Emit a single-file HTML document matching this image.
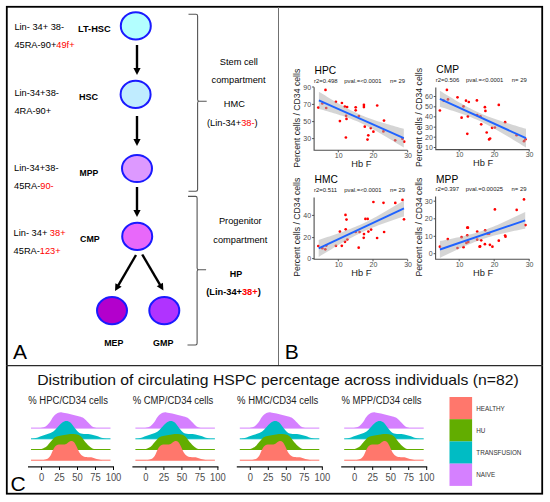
<!DOCTYPE html>
<html><head><meta charset="utf-8"><style>
html,body{margin:0;padding:0;background:#fff;width:550px;height:502px;overflow:hidden}
svg{display:block}
text{font-family:"Liberation Sans",sans-serif}
</style></head><body>
<svg width="550" height="502" viewBox="0 0 550 502">
<rect width="550" height="502" fill="#fff"/>
<rect x="6.8" y="6.8" width="535.4" height="486.9" fill="none" stroke="#000" stroke-width="1.8"/>
<line x1="278.5" y1="7" x2="278.5" y2="365" stroke="#707070" stroke-width="1"/>
<line x1="6" y1="365.6" x2="543" y2="365.6" stroke="#2a2a2a" stroke-width="1.25"/>
<ellipse cx="135.8" cy="25.9" rx="15" ry="13.6" fill="#b3ffff" stroke="#1a1aff" stroke-width="2"/>
<ellipse cx="135.6" cy="94.4" rx="15" ry="13.6" fill="#c0ecff" stroke="#1a1aff" stroke-width="2"/>
<ellipse cx="137" cy="168.5" rx="15" ry="13.6" fill="#dd99ff" stroke="#1a1aff" stroke-width="2"/>
<ellipse cx="137.2" cy="236.4" rx="15" ry="13.6" fill="#e868fa" stroke="#1a1aff" stroke-width="2"/>
<ellipse cx="112" cy="310.6" rx="15" ry="13.6" fill="#b300cc" stroke="#1a1aff" stroke-width="2"/>
<ellipse cx="164.3" cy="310.6" rx="15" ry="13.6" fill="#b033ff" stroke="#1a1aff" stroke-width="2"/>
<line x1="137" y1="45" x2="137.00" y2="69.00" stroke="#000" stroke-width="2.4"/>
<polygon points="137.00,75.00 133.40,68.00 140.60,68.00" fill="#000"/>
<line x1="137" y1="116" x2="137.00" y2="140.00" stroke="#000" stroke-width="2.4"/>
<polygon points="137.00,146.00 133.40,139.00 140.60,139.00" fill="#000"/>
<line x1="137" y1="187" x2="137.00" y2="211.00" stroke="#000" stroke-width="2.4"/>
<polygon points="137.00,217.00 133.40,210.00 140.60,210.00" fill="#000"/>
<line x1="136" y1="255" x2="118.02" y2="285.82" stroke="#000" stroke-width="2.4"/>
<polygon points="115.00,291.00 115.42,283.14 121.64,286.77" fill="#000"/>
<line x1="142.2" y1="254.5" x2="160.36" y2="285.33" stroke="#000" stroke-width="2.4"/>
<polygon points="163.40,290.50 156.75,286.29 162.95,282.64" fill="#000"/>
<text x="14.4" y="30" font-size="9.25" fill="#000" text-anchor="start" >Lin- 34+ 38-</text>
<text x="14.4" y="48" font-size="9.25" fill="#000" text-anchor="start" >45RA-90+<tspan fill="#ff0000">49f+</tspan></text>
<text x="78" y="32.4" font-size="9.25" fill="#000" font-weight="bold" text-anchor="start" >LT-HSC</text>
<text x="14.4" y="95.6" font-size="9.25" fill="#000" text-anchor="start" >Lin-34+38-</text>
<text x="14.4" y="114.4" font-size="9.25" fill="#000" text-anchor="start" >4RA-90+</text>
<text x="79" y="100.4" font-size="9.05" fill="#000" font-weight="bold" text-anchor="start" >HSC</text>
<text x="14" y="171" font-size="9.25" fill="#000" text-anchor="start" >Lin-34+38-</text>
<text x="14" y="189.4" font-size="9.25" fill="#000" text-anchor="start" >45RA-<tspan fill="#ff0000">90-</tspan></text>
<text x="79.6" y="176" font-size="8.65" fill="#000" font-weight="bold" text-anchor="start" >MPP</text>
<text x="13.6" y="236" font-size="9.25" fill="#000" text-anchor="start" >Lin- 34+ <tspan fill="#ff0000">38+</tspan></text>
<text x="13.6" y="254" font-size="9.25" fill="#000" text-anchor="start" >45RA-<tspan fill="#ff0000">123+</tspan></text>
<text x="80" y="241.6" font-size="8.85" fill="#000" font-weight="bold" text-anchor="start" >CMP</text>
<text x="104.2" y="346.1" font-size="8.85" fill="#000" font-weight="bold" text-anchor="start" >MEP</text>
<text x="153.1" y="346.1" font-size="8.95" fill="#000" font-weight="bold" text-anchor="start" >GMP</text>
<path d="M188.5,14.3 H196 Q197.6,14.3 197.6,16 V99.5 Q197.6,101.2 199,101.2 H206.7 M199,101.2 Q197.6,101.2 197.6,103 V189.5 Q197.6,191.2 196,191.2 H188.5" fill="none" stroke="#555" stroke-width="1.1"/>
<path d="M188,196.4 H195.5 Q197.1,196.4 197.1,198 V268 Q197.1,269.7 198.6,269.7 H206.1 M198.6,269.7 Q197.1,269.7 197.1,271.5 V343.3 Q197.1,345 195.5,345 H187.5" fill="none" stroke="#555" stroke-width="1.1"/>
<text x="238.8" y="64.7" font-size="9.25" fill="#000" text-anchor="middle" >Stem cell</text>
<text x="238.6" y="83.1" font-size="9.25" fill="#000" text-anchor="middle" >compartment</text>
<text x="234.4" y="107.4" font-size="9.25" fill="#000" text-anchor="middle" >HMC</text>
<text x="232.3" y="126.2" font-size="9.25" fill="#000" text-anchor="middle" >(Lin-34+<tspan fill="#ff0000">38-</tspan>)</text>
<text x="240.3" y="224.3" font-size="9.25" fill="#000" text-anchor="middle" >Progenitor</text>
<text x="240.3" y="243.4" font-size="9.25" fill="#000" text-anchor="middle" >compartment</text>
<text x="236" y="276.6" font-size="8.95" fill="#000" font-weight="bold" text-anchor="middle" >HP</text>
<text x="233.5" y="294.5" font-size="9.25" fill="#000" font-weight="bold" text-anchor="middle" >(Lin-34+<tspan fill="#ff0000">38+</tspan>)</text>
<text x="12.9" y="359.4" font-size="21" fill="#000" text-anchor="start" >A</text>
<text x="284.7" y="359.4" font-size="21" fill="#000" text-anchor="start" >B</text>
<text x="10.6" y="491.2" font-size="21" fill="#000" text-anchor="start" >C</text>
<circle cx="325.5" cy="89.9" r="1.35" fill="#ff0000"/>
<circle cx="318.3" cy="107.6" r="1.35" fill="#ff0000"/>
<circle cx="322.3" cy="103.5" r="1.35" fill="#ff0000"/>
<circle cx="326.2" cy="108" r="1.35" fill="#ff0000"/>
<circle cx="335.9" cy="101.8" r="1.35" fill="#ff0000"/>
<circle cx="341.9" cy="103" r="1.35" fill="#ff0000"/>
<circle cx="344.8" cy="106.6" r="1.35" fill="#ff0000"/>
<circle cx="347.1" cy="107" r="1.35" fill="#ff0000"/>
<circle cx="339.9" cy="121.1" r="1.35" fill="#ff0000"/>
<circle cx="346.1" cy="115.8" r="1.35" fill="#ff0000"/>
<circle cx="346.5" cy="118.9" r="1.35" fill="#ff0000"/>
<circle cx="345.9" cy="137.5" r="1.35" fill="#ff0000"/>
<circle cx="355.7" cy="107.3" r="1.35" fill="#ff0000"/>
<circle cx="355.7" cy="110.3" r="1.35" fill="#ff0000"/>
<circle cx="358.9" cy="116" r="1.35" fill="#ff0000"/>
<circle cx="363.9" cy="104.9" r="1.35" fill="#ff0000"/>
<circle cx="363.9" cy="107.1" r="1.35" fill="#ff0000"/>
<circle cx="364.8" cy="126.7" r="1.35" fill="#ff0000"/>
<circle cx="377.2" cy="105.5" r="1.35" fill="#ff0000"/>
<circle cx="384" cy="120.6" r="1.35" fill="#ff0000"/>
<circle cx="370.8" cy="128.1" r="1.35" fill="#ff0000"/>
<circle cx="373.4" cy="131.7" r="1.35" fill="#ff0000"/>
<circle cx="383.4" cy="131.4" r="1.35" fill="#ff0000"/>
<circle cx="368.3" cy="135.3" r="1.35" fill="#ff0000"/>
<circle cx="367.5" cy="139.6" r="1.35" fill="#ff0000"/>
<circle cx="395.2" cy="140.3" r="1.35" fill="#ff0000"/>
<circle cx="402.4" cy="138.8" r="1.35" fill="#ff0000"/>
<circle cx="404.2" cy="141.7" r="1.35" fill="#ff0000"/>
<polygon points="318.90,91.70 321.02,93.00 323.14,94.30 325.27,95.59 327.39,96.88 329.51,98.16 331.63,99.43 333.76,100.69 335.88,101.94 338.00,103.18 340.12,104.40 342.25,105.61 344.37,106.80 346.49,107.97 348.62,109.11 350.74,110.22 352.86,111.29 354.98,112.34 357.11,113.34 359.23,114.30 361.35,115.23 363.47,116.11 365.59,116.95 367.72,117.76 369.84,118.54 371.96,119.29 374.08,120.02 376.21,120.72 378.33,121.40 380.45,122.07 382.57,122.72 384.70,123.36 386.82,123.99 388.94,124.62 391.06,125.23 393.19,125.84 395.31,126.44 397.43,127.04 399.56,127.63 401.68,128.22 403.80,128.80 403.80,147.60 401.68,146.29 399.56,144.98 397.43,143.68 395.31,142.38 393.19,141.09 391.06,139.80 388.94,138.52 386.82,137.25 384.70,135.98 382.57,134.73 380.45,133.49 378.33,132.26 376.21,131.05 374.08,129.85 371.96,128.68 369.84,127.54 367.72,126.42 365.59,125.34 363.47,124.29 361.35,123.27 359.23,122.30 357.11,121.37 354.98,120.48 352.86,119.63 350.74,118.81 348.62,118.02 346.49,117.27 344.37,116.54 342.25,115.83 340.12,115.15 338.00,114.47 335.88,113.82 333.76,113.17 331.63,112.54 329.51,111.92 327.39,111.30 325.27,110.69 323.14,110.09 321.02,109.49 318.90,108.90" fill="#acacac" fill-opacity="0.5"/>
<line x1="318.9" y1="100.3" x2="403.8" y2="138.2" stroke="#1f63ff" stroke-width="1.9"/>
<path d="M314.1,87.2 V150.3 H407.5" fill="none" stroke="#4d4d4d" stroke-width="1.1"/>
<line x1="312.1" y1="87" x2="314.1" y2="87" stroke="#4d4d4d" stroke-width="1"/>
<text x="311.1" y="89.5" font-size="7" fill="#4d4d4d" text-anchor="end" >90</text>
<line x1="312.1" y1="104.4" x2="314.1" y2="104.4" stroke="#4d4d4d" stroke-width="1"/>
<text x="311.1" y="106.9" font-size="7" fill="#4d4d4d" text-anchor="end" >70</text>
<line x1="312.1" y1="121.6" x2="314.1" y2="121.6" stroke="#4d4d4d" stroke-width="1"/>
<text x="311.1" y="124.1" font-size="7" fill="#4d4d4d" text-anchor="end" >50</text>
<line x1="312.1" y1="138.6" x2="314.1" y2="138.6" stroke="#4d4d4d" stroke-width="1"/>
<text x="311.1" y="141.1" font-size="7" fill="#4d4d4d" text-anchor="end" >30</text>
<line x1="338.3" y1="150.3" x2="338.3" y2="152.3" stroke="#4d4d4d" stroke-width="1"/>
<text x="338.7" y="158.0" font-size="7" fill="#4d4d4d" text-anchor="middle" >10</text>
<line x1="373.0" y1="150.3" x2="373.0" y2="152.3" stroke="#4d4d4d" stroke-width="1"/>
<text x="373.4" y="158.0" font-size="7" fill="#4d4d4d" text-anchor="middle" >20</text>
<line x1="407.70000000000005" y1="150.3" x2="407.70000000000005" y2="152.3" stroke="#4d4d4d" stroke-width="1"/>
<text x="408.1" y="158.0" font-size="7" fill="#4d4d4d" text-anchor="middle" >30</text>
<text x="314.6" y="73.9" font-size="10.2" fill="#000" text-anchor="start" >HPC</text>
<text x="314.1" y="82.50000000000001" font-size="5.9" fill="#222" text-anchor="start" >r2=0.498</text>
<text x="344.3" y="82.50000000000001" font-size="5.9" fill="#222" text-anchor="start" >pval.=&lt;0.0001</text>
<text x="390.1" y="82.50000000000001" font-size="5.9" fill="#222" text-anchor="start" >n= 29</text>
<text x="361.3" y="166.6" font-size="9.3" fill="#222" text-anchor="middle" >Hb F</text>
<text x="0" y="0" font-size="8.7" fill="#222" text-anchor="middle" transform="translate(300,118.20) rotate(-90)">Percent cells / CD34 cells</text>
<circle cx="446.9" cy="89.9" r="1.35" fill="#ff0000"/>
<circle cx="439.9" cy="110.5" r="1.35" fill="#ff0000"/>
<circle cx="448" cy="99.4" r="1.35" fill="#ff0000"/>
<circle cx="443.7" cy="100.7" r="1.35" fill="#ff0000"/>
<circle cx="457.5" cy="97.3" r="1.35" fill="#ff0000"/>
<circle cx="463.5" cy="106.4" r="1.35" fill="#ff0000"/>
<circle cx="466" cy="100.7" r="1.35" fill="#ff0000"/>
<circle cx="468.8" cy="102" r="1.35" fill="#ff0000"/>
<circle cx="461.6" cy="117.7" r="1.35" fill="#ff0000"/>
<circle cx="467.9" cy="116.4" r="1.35" fill="#ff0000"/>
<circle cx="467.3" cy="133.8" r="1.35" fill="#ff0000"/>
<circle cx="476.9" cy="100.4" r="1.35" fill="#ff0000"/>
<circle cx="484.9" cy="107.2" r="1.35" fill="#ff0000"/>
<circle cx="485.4" cy="110.9" r="1.35" fill="#ff0000"/>
<circle cx="498.8" cy="104.9" r="1.35" fill="#ff0000"/>
<circle cx="477.2" cy="115.1" r="1.35" fill="#ff0000"/>
<circle cx="480.4" cy="116.3" r="1.35" fill="#ff0000"/>
<circle cx="481.2" cy="124.3" r="1.35" fill="#ff0000"/>
<circle cx="492.1" cy="127.8" r="1.35" fill="#ff0000"/>
<circle cx="494.9" cy="127.5" r="1.35" fill="#ff0000"/>
<circle cx="505.1" cy="122.2" r="1.35" fill="#ff0000"/>
<circle cx="486.7" cy="132.5" r="1.35" fill="#ff0000"/>
<circle cx="489.1" cy="139.4" r="1.35" fill="#ff0000"/>
<circle cx="490.1" cy="138.5" r="1.35" fill="#ff0000"/>
<circle cx="516.6" cy="135.2" r="1.35" fill="#ff0000"/>
<circle cx="524" cy="141.2" r="1.35" fill="#ff0000"/>
<circle cx="525.5" cy="139.3" r="1.35" fill="#ff0000"/>
<polygon points="439.90,90.80 442.05,92.12 444.20,93.43 446.36,94.73 448.51,96.03 450.66,97.32 452.81,98.60 454.97,99.88 457.12,101.13 459.27,102.38 461.42,103.61 463.58,104.82 465.73,106.01 467.88,107.17 470.03,108.31 472.19,109.42 474.34,110.49 476.49,111.53 478.64,112.53 480.80,113.49 482.95,114.42 485.10,115.32 487.25,116.18 489.41,117.01 491.56,117.81 493.71,118.59 495.87,119.35 498.02,120.09 500.17,120.81 502.32,121.52 504.48,122.22 506.63,122.91 508.78,123.58 510.93,124.25 513.09,124.92 515.24,125.58 517.39,126.23 519.54,126.88 521.70,127.52 523.85,128.16 526.00,128.80 526.00,147.60 523.85,146.27 521.70,144.94 519.54,143.61 517.39,142.29 515.24,140.97 513.09,139.66 510.93,138.36 508.78,137.06 506.63,135.76 504.48,134.48 502.32,133.21 500.17,131.95 498.02,130.70 495.87,129.47 493.71,128.26 491.56,127.07 489.41,125.90 487.25,124.76 485.10,123.65 482.95,122.58 480.80,121.54 478.64,120.53 476.49,119.56 474.34,118.63 472.19,117.73 470.03,116.87 467.88,116.04 465.73,115.23 463.58,114.45 461.42,113.69 459.27,112.95 457.12,112.23 454.97,111.51 452.81,110.82 450.66,110.13 448.51,109.45 446.36,108.78 444.20,108.11 442.05,107.45 439.90,106.80" fill="#acacac" fill-opacity="0.5"/>
<line x1="439.9" y1="98.8" x2="526" y2="138.2" stroke="#1f63ff" stroke-width="1.9"/>
<path d="M435.8,87.4 V149.6 H529.5" fill="none" stroke="#4d4d4d" stroke-width="1.1"/>
<line x1="433.8" y1="96.5" x2="435.8" y2="96.5" stroke="#4d4d4d" stroke-width="1"/>
<text x="432.8" y="99.0" font-size="7" fill="#4d4d4d" text-anchor="end" >60</text>
<line x1="433.8" y1="106.8" x2="435.8" y2="106.8" stroke="#4d4d4d" stroke-width="1"/>
<text x="432.8" y="109.3" font-size="7" fill="#4d4d4d" text-anchor="end" >50</text>
<line x1="433.8" y1="116.8" x2="435.8" y2="116.8" stroke="#4d4d4d" stroke-width="1"/>
<text x="432.8" y="119.3" font-size="7" fill="#4d4d4d" text-anchor="end" >40</text>
<line x1="433.8" y1="127.2" x2="435.8" y2="127.2" stroke="#4d4d4d" stroke-width="1"/>
<text x="432.8" y="129.7" font-size="7" fill="#4d4d4d" text-anchor="end" >30</text>
<line x1="433.8" y1="137.2" x2="435.8" y2="137.2" stroke="#4d4d4d" stroke-width="1"/>
<text x="432.8" y="139.7" font-size="7" fill="#4d4d4d" text-anchor="end" >20</text>
<line x1="433.8" y1="147.5" x2="435.8" y2="147.5" stroke="#4d4d4d" stroke-width="1"/>
<text x="432.8" y="150.0" font-size="7" fill="#4d4d4d" text-anchor="end" >10</text>
<line x1="459.2" y1="149.6" x2="459.2" y2="151.6" stroke="#4d4d4d" stroke-width="1"/>
<text x="459.59999999999997" y="157.29999999999998" font-size="7" fill="#4d4d4d" text-anchor="middle" >10</text>
<line x1="494.2" y1="149.6" x2="494.2" y2="151.6" stroke="#4d4d4d" stroke-width="1"/>
<text x="494.59999999999997" y="157.29999999999998" font-size="7" fill="#4d4d4d" text-anchor="middle" >20</text>
<line x1="529.2" y1="149.6" x2="529.2" y2="151.6" stroke="#4d4d4d" stroke-width="1"/>
<text x="529.6" y="157.29999999999998" font-size="7" fill="#4d4d4d" text-anchor="middle" >30</text>
<text x="436.3" y="73.19999999999999" font-size="10.2" fill="#000" text-anchor="start" >CMP</text>
<text x="435.8" y="81.8" font-size="5.9" fill="#222" text-anchor="start" >r2=0.506</text>
<text x="466.0" y="81.8" font-size="5.9" fill="#222" text-anchor="start" >pval.=&lt;0.0001</text>
<text x="511.8" y="81.8" font-size="5.9" fill="#222" text-anchor="start" >n= 29</text>
<text x="483.15" y="166" font-size="9.3" fill="#222" text-anchor="middle" >Hb F</text>
<text x="0" y="0" font-size="8.7" fill="#222" text-anchor="middle" transform="translate(421.5,117.50) rotate(-90)">Percent cells / CD34 cells</text>
<circle cx="318.3" cy="246" r="1.35" fill="#ff0000"/>
<circle cx="322.3" cy="248.2" r="1.35" fill="#ff0000"/>
<circle cx="325.3" cy="249.3" r="1.35" fill="#ff0000"/>
<circle cx="326.3" cy="245.6" r="1.35" fill="#ff0000"/>
<circle cx="335.9" cy="245.8" r="1.35" fill="#ff0000"/>
<circle cx="339.9" cy="231.6" r="1.35" fill="#ff0000"/>
<circle cx="341.8" cy="245.8" r="1.35" fill="#ff0000"/>
<circle cx="345.5" cy="214.9" r="1.35" fill="#ff0000"/>
<circle cx="346.5" cy="219.6" r="1.35" fill="#ff0000"/>
<circle cx="345.7" cy="229.3" r="1.35" fill="#ff0000"/>
<circle cx="345" cy="241.8" r="1.35" fill="#ff0000"/>
<circle cx="347.3" cy="239.5" r="1.35" fill="#ff0000"/>
<circle cx="373.4" cy="202" r="1.35" fill="#ff0000"/>
<circle cx="383.5" cy="202.8" r="1.35" fill="#ff0000"/>
<circle cx="395.3" cy="202.9" r="1.35" fill="#ff0000"/>
<circle cx="402.5" cy="199.9" r="1.35" fill="#ff0000"/>
<circle cx="404" cy="219.3" r="1.35" fill="#ff0000"/>
<circle cx="365.4" cy="218.9" r="1.35" fill="#ff0000"/>
<circle cx="367.7" cy="218.9" r="1.35" fill="#ff0000"/>
<circle cx="371.1" cy="229.6" r="1.35" fill="#ff0000"/>
<circle cx="368.4" cy="231.6" r="1.35" fill="#ff0000"/>
<circle cx="384.1" cy="232" r="1.35" fill="#ff0000"/>
<circle cx="355.7" cy="232" r="1.35" fill="#ff0000"/>
<circle cx="359.6" cy="232" r="1.35" fill="#ff0000"/>
<circle cx="364" cy="234.1" r="1.35" fill="#ff0000"/>
<circle cx="363.7" cy="237.8" r="1.35" fill="#ff0000"/>
<circle cx="377.1" cy="238" r="1.35" fill="#ff0000"/>
<circle cx="358.7" cy="247.7" r="1.35" fill="#ff0000"/>
<polygon points="318.70,239.90 320.83,239.21 322.96,238.51 325.10,237.81 327.23,237.10 329.36,236.39 331.50,235.67 333.63,234.94 335.76,234.21 337.89,233.46 340.02,232.71 342.16,231.94 344.29,231.16 346.42,230.37 348.56,229.55 350.69,228.72 352.82,227.87 354.95,226.99 357.08,226.08 359.22,225.15 361.35,224.19 363.48,223.20 365.62,222.18 367.75,221.13 369.88,220.05 372.01,218.95 374.14,217.81 376.28,216.66 378.41,215.49 380.54,214.29 382.68,213.08 384.81,211.86 386.94,210.62 389.07,209.37 391.20,208.11 393.34,206.84 395.47,205.57 397.60,204.28 399.74,202.99 401.87,201.70 404.00,200.40 404.00,216.40 401.87,217.10 399.74,217.81 397.60,218.52 395.47,219.23 393.34,219.96 391.20,220.69 389.07,221.43 386.94,222.18 384.81,222.94 382.68,223.72 380.54,224.51 378.41,225.31 376.28,226.14 374.14,226.99 372.01,227.85 369.88,228.75 367.75,229.67 365.62,230.62 363.48,231.60 361.35,232.61 359.22,233.65 357.08,234.72 354.95,235.81 352.82,236.93 350.69,238.08 348.56,239.25 346.42,240.43 344.29,241.64 342.16,242.86 340.02,244.09 337.89,245.34 335.76,246.59 333.63,247.86 331.50,249.13 329.36,250.41 327.23,251.70 325.10,252.99 322.96,254.29 320.83,255.59 318.70,256.90" fill="#acacac" fill-opacity="0.5"/>
<line x1="318.7" y1="248.4" x2="404" y2="208.4" stroke="#1f63ff" stroke-width="1.9"/>
<path d="M314.1,197.4 V259.3 H407.5" fill="none" stroke="#4d4d4d" stroke-width="1.1"/>
<line x1="312.1" y1="215.4" x2="314.1" y2="215.4" stroke="#4d4d4d" stroke-width="1"/>
<text x="311.1" y="217.9" font-size="7" fill="#4d4d4d" text-anchor="end" >40</text>
<line x1="312.1" y1="237.6" x2="314.1" y2="237.6" stroke="#4d4d4d" stroke-width="1"/>
<text x="311.1" y="240.1" font-size="7" fill="#4d4d4d" text-anchor="end" >20</text>
<line x1="312.1" y1="258.6" x2="314.1" y2="258.6" stroke="#4d4d4d" stroke-width="1"/>
<text x="311.1" y="261.1" font-size="7" fill="#4d4d4d" text-anchor="end" >0</text>
<line x1="338.3" y1="259.3" x2="338.3" y2="261.3" stroke="#4d4d4d" stroke-width="1"/>
<text x="338.7" y="267.0" font-size="7" fill="#4d4d4d" text-anchor="middle" >10</text>
<line x1="373.0" y1="259.3" x2="373.0" y2="261.3" stroke="#4d4d4d" stroke-width="1"/>
<text x="373.4" y="267.0" font-size="7" fill="#4d4d4d" text-anchor="middle" >20</text>
<line x1="407.70000000000005" y1="259.3" x2="407.70000000000005" y2="261.3" stroke="#4d4d4d" stroke-width="1"/>
<text x="408.1" y="267.0" font-size="7" fill="#4d4d4d" text-anchor="middle" >30</text>
<text x="314.6" y="182.9" font-size="10.2" fill="#000" text-anchor="start" >HMC</text>
<text x="314.1" y="191.5" font-size="5.9" fill="#222" text-anchor="start" >r2=0.511</text>
<text x="344.3" y="191.5" font-size="5.9" fill="#222" text-anchor="start" >pval.=&lt;0.0001</text>
<text x="390.1" y="191.5" font-size="5.9" fill="#222" text-anchor="start" >n= 29</text>
<text x="361.3" y="276" font-size="9.3" fill="#222" text-anchor="middle" >Hb F</text>
<text x="0" y="0" font-size="8.7" fill="#222" text-anchor="middle" transform="translate(300,227.20) rotate(-90)">Percent cells / CD34 cells</text>
<circle cx="439.9" cy="246.7" r="1.35" fill="#ff0000"/>
<circle cx="447.8" cy="239.1" r="1.35" fill="#ff0000"/>
<circle cx="457.5" cy="248" r="1.35" fill="#ff0000"/>
<circle cx="461.6" cy="237.2" r="1.35" fill="#ff0000"/>
<circle cx="463.5" cy="247.2" r="1.35" fill="#ff0000"/>
<circle cx="467.3" cy="227.7" r="1.35" fill="#ff0000"/>
<circle cx="467.9" cy="227.7" r="1.35" fill="#ff0000"/>
<circle cx="467.3" cy="235.3" r="1.35" fill="#ff0000"/>
<circle cx="466.4" cy="242.9" r="1.35" fill="#ff0000"/>
<circle cx="468.3" cy="241.9" r="1.35" fill="#ff0000"/>
<circle cx="477.2" cy="231.5" r="1.35" fill="#ff0000"/>
<circle cx="477.2" cy="239.7" r="1.35" fill="#ff0000"/>
<circle cx="479.6" cy="246.7" r="1.35" fill="#ff0000"/>
<circle cx="524" cy="199.4" r="1.35" fill="#ff0000"/>
<circle cx="494.9" cy="209.4" r="1.35" fill="#ff0000"/>
<circle cx="516.7" cy="209.9" r="1.35" fill="#ff0000"/>
<circle cx="525.5" cy="225.1" r="1.35" fill="#ff0000"/>
<circle cx="485.2" cy="230.3" r="1.35" fill="#ff0000"/>
<circle cx="487.6" cy="233.7" r="1.35" fill="#ff0000"/>
<circle cx="489.1" cy="233.7" r="1.35" fill="#ff0000"/>
<circle cx="481.2" cy="240.3" r="1.35" fill="#ff0000"/>
<circle cx="505.1" cy="235.5" r="1.35" fill="#ff0000"/>
<circle cx="505.5" cy="236.7" r="1.35" fill="#ff0000"/>
<circle cx="498.8" cy="240.7" r="1.35" fill="#ff0000"/>
<circle cx="480.1" cy="246.4" r="1.35" fill="#ff0000"/>
<circle cx="484.9" cy="244.2" r="1.35" fill="#ff0000"/>
<circle cx="489.9" cy="244.8" r="1.35" fill="#ff0000"/>
<circle cx="492.4" cy="246.7" r="1.35" fill="#ff0000"/>
<polygon points="439.90,241.10 442.03,240.68 444.16,240.26 446.30,239.84 448.43,239.40 450.56,238.96 452.69,238.52 454.83,238.07 456.96,237.60 459.09,237.13 461.23,236.64 463.36,236.14 465.49,235.63 467.62,235.10 469.75,234.55 471.89,233.97 474.02,233.38 476.15,232.75 478.29,232.10 480.42,231.41 482.55,230.70 484.68,229.95 486.81,229.18 488.95,228.37 491.08,227.54 493.21,226.67 495.35,225.79 497.48,224.88 499.61,223.95 501.74,223.00 503.88,222.04 506.01,221.07 508.14,220.08 510.27,219.09 512.41,218.08 514.54,217.06 516.67,216.04 518.80,215.02 520.94,213.98 523.07,212.94 525.20,211.90 525.20,228.70 523.07,229.12 520.94,229.54 518.80,229.96 516.67,230.40 514.54,230.84 512.41,231.28 510.27,231.73 508.14,232.20 506.01,232.67 503.88,233.16 501.74,233.66 499.61,234.17 497.48,234.70 495.35,235.25 493.21,235.83 491.08,236.42 488.95,237.05 486.81,237.70 484.68,238.39 482.55,239.10 480.42,239.85 478.29,240.62 476.15,241.43 474.02,242.26 471.89,243.13 469.75,244.01 467.62,244.92 465.49,245.85 463.36,246.80 461.23,247.76 459.09,248.73 456.96,249.72 454.83,250.71 452.69,251.72 450.56,252.74 448.43,253.76 446.30,254.78 444.16,255.82 442.03,256.86 439.90,257.90" fill="#acacac" fill-opacity="0.5"/>
<line x1="439.9" y1="249.5" x2="525.2" y2="220.3" stroke="#1f63ff" stroke-width="1.9"/>
<path d="M435.6,196.5 V259.2 H529.5" fill="none" stroke="#4d4d4d" stroke-width="1.1"/>
<line x1="433.6" y1="201.2" x2="435.6" y2="201.2" stroke="#4d4d4d" stroke-width="1"/>
<text x="432.6" y="203.7" font-size="7" fill="#4d4d4d" text-anchor="end" >30</text>
<line x1="433.6" y1="218.8" x2="435.6" y2="218.8" stroke="#4d4d4d" stroke-width="1"/>
<text x="432.6" y="221.3" font-size="7" fill="#4d4d4d" text-anchor="end" >20</text>
<line x1="433.6" y1="236.3" x2="435.6" y2="236.3" stroke="#4d4d4d" stroke-width="1"/>
<text x="432.6" y="238.8" font-size="7" fill="#4d4d4d" text-anchor="end" >10</text>
<line x1="433.6" y1="253.7" x2="435.6" y2="253.7" stroke="#4d4d4d" stroke-width="1"/>
<text x="432.6" y="256.2" font-size="7" fill="#4d4d4d" text-anchor="end" >0</text>
<line x1="459.2" y1="259.2" x2="459.2" y2="261.2" stroke="#4d4d4d" stroke-width="1"/>
<text x="459.59999999999997" y="266.9" font-size="7" fill="#4d4d4d" text-anchor="middle" >10</text>
<line x1="494.2" y1="259.2" x2="494.2" y2="261.2" stroke="#4d4d4d" stroke-width="1"/>
<text x="494.59999999999997" y="266.9" font-size="7" fill="#4d4d4d" text-anchor="middle" >20</text>
<line x1="529.2" y1="259.2" x2="529.2" y2="261.2" stroke="#4d4d4d" stroke-width="1"/>
<text x="529.6" y="266.9" font-size="7" fill="#4d4d4d" text-anchor="middle" >30</text>
<text x="436.1" y="182.79999999999998" font-size="10.2" fill="#000" text-anchor="start" >MPP</text>
<text x="435.6" y="191.39999999999998" font-size="5.9" fill="#222" text-anchor="start" >r2=0.397</text>
<text x="465.8" y="191.39999999999998" font-size="5.9" fill="#222" text-anchor="start" >pval.=0.00025</text>
<text x="511.6" y="191.39999999999998" font-size="5.9" fill="#222" text-anchor="start" >n= 29</text>
<text x="483.05" y="276" font-size="9.3" fill="#222" text-anchor="middle" >Hb F</text>
<text x="0" y="0" font-size="8.7" fill="#222" text-anchor="middle" transform="translate(421.5,227.10) rotate(-90)">Percent cells / CD34 cells</text>
<text x="37.2" y="384.8" font-size="14.4" fill="#111" text-anchor="start" textLength="481.5" lengthAdjust="spacingAndGlyphs">Distribution of circulating HSPC percentage across individuals (n=82)</text>
<path d="M31.00,428.10 C32.17,428.08 36.23,428.07 38.00,428.00 C39.77,427.93 40.27,428.00 41.60,427.70 C42.93,427.40 44.67,427.05 46.00,426.20 C47.33,425.35 48.38,424.17 49.60,422.60 C50.82,421.03 51.97,418.38 53.30,416.80 C54.63,415.22 56.15,413.83 57.60,413.10 C59.05,412.37 60.30,412.32 62.00,412.40 C63.70,412.48 65.87,413.17 67.80,413.60 C69.73,414.03 71.65,414.52 73.60,415.00 C75.55,415.48 77.80,415.97 79.50,416.50 C81.20,417.03 82.35,417.18 83.80,418.20 C85.25,419.22 86.87,421.27 88.20,422.60 C89.53,423.93 90.58,425.33 91.80,426.20 C93.02,427.07 94.30,427.48 95.50,427.80 C96.70,428.12 96.50,428.05 99.00,428.10 C101.50,428.15 108.58,428.10 110.50,428.10 Z" fill="#d580ff"/>
<line x1="31.0" y1="428.1" x2="110.5" y2="428.1" stroke="#d580ff" stroke-width="1"/>
<path d="M31.00,438.80 C31.33,438.78 32.20,438.82 33.00,438.70 C33.80,438.58 34.37,438.57 35.80,438.10 C37.23,437.63 39.65,436.57 41.60,435.90 C43.55,435.23 45.55,434.83 47.50,434.10 C49.45,433.37 51.62,432.65 53.30,431.50 C54.98,430.35 56.15,428.65 57.60,427.20 C59.05,425.75 60.53,423.82 62.00,422.80 C63.47,421.78 64.95,421.10 66.40,421.10 C67.85,421.10 69.25,421.55 70.70,422.80 C72.15,424.05 73.63,426.90 75.10,428.60 C76.57,430.30 77.80,432.08 79.50,433.00 C81.20,433.92 83.37,433.87 85.30,434.10 C87.23,434.33 89.17,434.10 91.10,434.40 C93.03,434.70 94.97,435.28 96.90,435.90 C98.83,436.52 101.18,437.63 102.70,438.10 C104.22,438.57 104.70,438.58 106.00,438.70 C107.30,438.82 109.75,438.78 110.50,438.80 Z" fill="#00bcc4"/>
<line x1="31.0" y1="438.8" x2="110.5" y2="438.8" stroke="#00bcc4" stroke-width="1"/>
<path d="M31.00,449.50 C32.17,449.48 36.42,449.45 38.00,449.40 C39.58,449.35 39.50,449.43 40.50,449.20 C41.50,448.97 42.92,448.53 44.00,448.00 C45.08,447.47 45.93,447.00 47.00,446.00 C48.07,445.00 49.32,443.25 50.40,442.00 C51.48,440.75 52.48,439.42 53.50,438.50 C54.52,437.58 55.20,437.00 56.50,436.50 C57.80,436.00 59.50,435.83 61.30,435.50 C63.10,435.17 65.32,434.73 67.30,434.50 C69.28,434.27 71.42,434.07 73.20,434.10 C74.98,434.13 76.70,434.30 78.00,434.70 C79.30,435.10 79.92,435.45 81.00,436.50 C82.08,437.55 83.25,439.50 84.50,441.00 C85.75,442.50 87.25,444.28 88.50,445.50 C89.75,446.72 90.75,447.67 92.00,448.30 C93.25,448.93 94.83,449.10 96.00,449.30 C97.17,449.50 96.58,449.47 99.00,449.50 C101.42,449.53 108.58,449.50 110.50,449.50 Z" fill="#62ad00"/>
<line x1="31.0" y1="449.5" x2="110.5" y2="449.5" stroke="#62ad00" stroke-width="1"/>
<path d="M31.00,460.20 C32.50,460.18 37.92,460.13 40.00,460.10 C42.08,460.07 42.25,460.23 43.50,460.00 C44.75,459.77 46.35,459.42 47.50,458.70 C48.65,457.98 49.35,457.42 50.40,455.70 C51.45,453.98 52.58,450.22 53.80,448.40 C55.02,446.58 56.20,445.47 57.70,444.80 C59.20,444.13 61.38,444.55 62.80,444.40 C64.22,444.25 64.88,444.47 66.20,443.90 C67.52,443.33 69.38,441.28 70.70,441.00 C72.02,440.72 73.07,441.17 74.10,442.20 C75.13,443.23 75.97,445.42 76.90,447.20 C77.83,448.98 78.67,451.38 79.70,452.90 C80.73,454.42 81.78,455.58 83.10,456.30 C84.42,457.02 86.10,457.02 87.60,457.20 C89.10,457.38 90.60,457.08 92.10,457.40 C93.60,457.72 95.12,458.67 96.60,459.10 C98.08,459.53 99.77,459.82 101.00,460.00 C102.23,460.18 102.42,460.17 104.00,460.20 C105.58,460.23 109.42,460.20 110.50,460.20 Z" fill="#ff776c"/>
<line x1="31.0" y1="460.2" x2="110.5" y2="460.2" stroke="#ff776c" stroke-width="1"/>
<line x1="28.0" y1="466.9" x2="114.0" y2="466.9" stroke="#111" stroke-width="1.4"/>
<line x1="41.50" y1="466.9" x2="41.50" y2="470" stroke="#000" stroke-width="1"/>
<text x="0" y="0" font-size="9.4" fill="#4d4d4d" text-anchor="middle" transform="translate(41.50,480.7) scale(1,1.22)">0</text>
<line x1="59.50" y1="466.9" x2="59.50" y2="470" stroke="#000" stroke-width="1"/>
<text x="0" y="0" font-size="9.4" fill="#4d4d4d" text-anchor="middle" transform="translate(59.50,480.7) scale(1,1.22)">25</text>
<line x1="77.50" y1="466.9" x2="77.50" y2="470" stroke="#000" stroke-width="1"/>
<text x="0" y="0" font-size="9.4" fill="#4d4d4d" text-anchor="middle" transform="translate(77.50,480.7) scale(1,1.22)">50</text>
<line x1="95.50" y1="466.9" x2="95.50" y2="470" stroke="#000" stroke-width="1"/>
<text x="0" y="0" font-size="9.4" fill="#4d4d4d" text-anchor="middle" transform="translate(95.50,480.7) scale(1,1.22)">75</text>
<line x1="113.50" y1="466.9" x2="113.50" y2="470" stroke="#000" stroke-width="1"/>
<text x="0" y="0" font-size="9.4" fill="#4d4d4d" text-anchor="middle" transform="translate(113.50,480.7) scale(1,1.22)">100</text>
<text x="0" y="0" font-size="9.5" fill="#222" transform="translate(28.30,403.9) scale(1,1.1)">% HPC/CD34 cells</text>
<path d="M135.40,428.10 C136.57,428.08 140.63,428.07 142.40,428.00 C144.17,427.93 144.67,428.00 146.00,427.70 C147.33,427.40 149.07,427.05 150.40,426.20 C151.73,425.35 152.78,424.17 154.00,422.60 C155.22,421.03 156.37,418.38 157.70,416.80 C159.03,415.22 160.55,413.83 162.00,413.10 C163.45,412.37 164.70,412.32 166.40,412.40 C168.10,412.48 170.27,413.17 172.20,413.60 C174.13,414.03 176.05,414.52 178.00,415.00 C179.95,415.48 182.20,415.97 183.90,416.50 C185.60,417.03 186.75,417.18 188.20,418.20 C189.65,419.22 191.27,421.27 192.60,422.60 C193.93,423.93 194.98,425.33 196.20,426.20 C197.42,427.07 198.70,427.48 199.90,427.80 C201.10,428.12 200.90,428.05 203.40,428.10 C205.90,428.15 212.98,428.10 214.90,428.10 Z" fill="#d580ff"/>
<line x1="135.4" y1="428.1" x2="214.9" y2="428.1" stroke="#d580ff" stroke-width="1"/>
<path d="M135.40,438.80 C135.73,438.78 136.60,438.82 137.40,438.70 C138.20,438.58 138.77,438.57 140.20,438.10 C141.63,437.63 144.05,436.57 146.00,435.90 C147.95,435.23 149.95,434.83 151.90,434.10 C153.85,433.37 156.02,432.65 157.70,431.50 C159.38,430.35 160.55,428.65 162.00,427.20 C163.45,425.75 164.93,423.82 166.40,422.80 C167.87,421.78 169.35,421.10 170.80,421.10 C172.25,421.10 173.65,421.55 175.10,422.80 C176.55,424.05 178.03,426.90 179.50,428.60 C180.97,430.30 182.20,432.08 183.90,433.00 C185.60,433.92 187.77,433.87 189.70,434.10 C191.63,434.33 193.57,434.10 195.50,434.40 C197.43,434.70 199.37,435.28 201.30,435.90 C203.23,436.52 205.58,437.63 207.10,438.10 C208.62,438.57 209.10,438.58 210.40,438.70 C211.70,438.82 214.15,438.78 214.90,438.80 Z" fill="#00bcc4"/>
<line x1="135.4" y1="438.8" x2="214.9" y2="438.8" stroke="#00bcc4" stroke-width="1"/>
<path d="M135.40,449.50 C136.57,449.48 140.82,449.45 142.40,449.40 C143.98,449.35 143.90,449.43 144.90,449.20 C145.90,448.97 147.32,448.53 148.40,448.00 C149.48,447.47 150.33,447.00 151.40,446.00 C152.47,445.00 153.72,443.25 154.80,442.00 C155.88,440.75 156.88,439.42 157.90,438.50 C158.92,437.58 159.60,437.00 160.90,436.50 C162.20,436.00 163.90,435.83 165.70,435.50 C167.50,435.17 169.72,434.73 171.70,434.50 C173.68,434.27 175.82,434.07 177.60,434.10 C179.38,434.13 181.10,434.30 182.40,434.70 C183.70,435.10 184.32,435.45 185.40,436.50 C186.48,437.55 187.65,439.50 188.90,441.00 C190.15,442.50 191.65,444.28 192.90,445.50 C194.15,446.72 195.15,447.67 196.40,448.30 C197.65,448.93 199.23,449.10 200.40,449.30 C201.57,449.50 200.98,449.47 203.40,449.50 C205.82,449.53 212.98,449.50 214.90,449.50 Z" fill="#62ad00"/>
<line x1="135.4" y1="449.5" x2="214.9" y2="449.5" stroke="#62ad00" stroke-width="1"/>
<path d="M135.40,460.20 C136.90,460.18 142.32,460.13 144.40,460.10 C146.48,460.07 146.65,460.23 147.90,460.00 C149.15,459.77 150.75,459.42 151.90,458.70 C153.05,457.98 153.75,457.42 154.80,455.70 C155.85,453.98 156.98,450.22 158.20,448.40 C159.42,446.58 160.60,445.47 162.10,444.80 C163.60,444.13 165.78,444.55 167.20,444.40 C168.62,444.25 169.28,444.47 170.60,443.90 C171.92,443.33 173.78,441.28 175.10,441.00 C176.42,440.72 177.47,441.17 178.50,442.20 C179.53,443.23 180.37,445.42 181.30,447.20 C182.23,448.98 183.07,451.38 184.10,452.90 C185.13,454.42 186.18,455.58 187.50,456.30 C188.82,457.02 190.50,457.02 192.00,457.20 C193.50,457.38 195.00,457.08 196.50,457.40 C198.00,457.72 199.52,458.67 201.00,459.10 C202.48,459.53 204.17,459.82 205.40,460.00 C206.63,460.18 206.82,460.17 208.40,460.20 C209.98,460.23 213.82,460.20 214.90,460.20 Z" fill="#ff776c"/>
<line x1="135.4" y1="460.2" x2="214.9" y2="460.2" stroke="#ff776c" stroke-width="1"/>
<line x1="132.4" y1="466.9" x2="218.4" y2="466.9" stroke="#111" stroke-width="1.4"/>
<line x1="145.90" y1="466.9" x2="145.90" y2="470" stroke="#000" stroke-width="1"/>
<text x="0" y="0" font-size="9.4" fill="#4d4d4d" text-anchor="middle" transform="translate(145.90,480.7) scale(1,1.22)">0</text>
<line x1="163.90" y1="466.9" x2="163.90" y2="470" stroke="#000" stroke-width="1"/>
<text x="0" y="0" font-size="9.4" fill="#4d4d4d" text-anchor="middle" transform="translate(163.90,480.7) scale(1,1.22)">25</text>
<line x1="181.90" y1="466.9" x2="181.90" y2="470" stroke="#000" stroke-width="1"/>
<text x="0" y="0" font-size="9.4" fill="#4d4d4d" text-anchor="middle" transform="translate(181.90,480.7) scale(1,1.22)">50</text>
<line x1="199.90" y1="466.9" x2="199.90" y2="470" stroke="#000" stroke-width="1"/>
<text x="0" y="0" font-size="9.4" fill="#4d4d4d" text-anchor="middle" transform="translate(199.90,480.7) scale(1,1.22)">75</text>
<line x1="217.90" y1="466.9" x2="217.90" y2="470" stroke="#000" stroke-width="1"/>
<text x="0" y="0" font-size="9.4" fill="#4d4d4d" text-anchor="middle" transform="translate(217.90,480.7) scale(1,1.22)">100</text>
<text x="0" y="0" font-size="9.5" fill="#222" transform="translate(132.70,403.9) scale(1,1.1)">% CMP/CD34 cells</text>
<path d="M239.80,428.10 C240.97,428.08 245.03,428.07 246.80,428.00 C248.57,427.93 249.07,428.00 250.40,427.70 C251.73,427.40 253.47,427.05 254.80,426.20 C256.13,425.35 257.18,424.17 258.40,422.60 C259.62,421.03 260.77,418.38 262.10,416.80 C263.43,415.22 264.95,413.83 266.40,413.10 C267.85,412.37 269.10,412.32 270.80,412.40 C272.50,412.48 274.67,413.17 276.60,413.60 C278.53,414.03 280.45,414.52 282.40,415.00 C284.35,415.48 286.60,415.97 288.30,416.50 C290.00,417.03 291.15,417.18 292.60,418.20 C294.05,419.22 295.67,421.27 297.00,422.60 C298.33,423.93 299.38,425.33 300.60,426.20 C301.82,427.07 303.10,427.48 304.30,427.80 C305.50,428.12 305.30,428.05 307.80,428.10 C310.30,428.15 317.38,428.10 319.30,428.10 Z" fill="#d580ff"/>
<line x1="239.8" y1="428.1" x2="319.3" y2="428.1" stroke="#d580ff" stroke-width="1"/>
<path d="M239.80,438.80 C240.13,438.78 241.00,438.82 241.80,438.70 C242.60,438.58 243.17,438.57 244.60,438.10 C246.03,437.63 248.45,436.57 250.40,435.90 C252.35,435.23 254.35,434.83 256.30,434.10 C258.25,433.37 260.42,432.65 262.10,431.50 C263.78,430.35 264.95,428.65 266.40,427.20 C267.85,425.75 269.33,423.82 270.80,422.80 C272.27,421.78 273.75,421.10 275.20,421.10 C276.65,421.10 278.05,421.55 279.50,422.80 C280.95,424.05 282.43,426.90 283.90,428.60 C285.37,430.30 286.60,432.08 288.30,433.00 C290.00,433.92 292.17,433.87 294.10,434.10 C296.03,434.33 297.97,434.10 299.90,434.40 C301.83,434.70 303.77,435.28 305.70,435.90 C307.63,436.52 309.98,437.63 311.50,438.10 C313.02,438.57 313.50,438.58 314.80,438.70 C316.10,438.82 318.55,438.78 319.30,438.80 Z" fill="#00bcc4"/>
<line x1="239.8" y1="438.8" x2="319.3" y2="438.8" stroke="#00bcc4" stroke-width="1"/>
<path d="M239.80,449.50 C240.97,449.48 245.22,449.45 246.80,449.40 C248.38,449.35 248.30,449.43 249.30,449.20 C250.30,448.97 251.72,448.53 252.80,448.00 C253.88,447.47 254.73,447.00 255.80,446.00 C256.87,445.00 258.12,443.25 259.20,442.00 C260.28,440.75 261.28,439.42 262.30,438.50 C263.32,437.58 264.00,437.00 265.30,436.50 C266.60,436.00 268.30,435.83 270.10,435.50 C271.90,435.17 274.12,434.73 276.10,434.50 C278.08,434.27 280.22,434.07 282.00,434.10 C283.78,434.13 285.50,434.30 286.80,434.70 C288.10,435.10 288.72,435.45 289.80,436.50 C290.88,437.55 292.05,439.50 293.30,441.00 C294.55,442.50 296.05,444.28 297.30,445.50 C298.55,446.72 299.55,447.67 300.80,448.30 C302.05,448.93 303.63,449.10 304.80,449.30 C305.97,449.50 305.38,449.47 307.80,449.50 C310.22,449.53 317.38,449.50 319.30,449.50 Z" fill="#62ad00"/>
<line x1="239.8" y1="449.5" x2="319.3" y2="449.5" stroke="#62ad00" stroke-width="1"/>
<path d="M239.80,460.20 C241.30,460.18 246.72,460.13 248.80,460.10 C250.88,460.07 251.05,460.23 252.30,460.00 C253.55,459.77 255.15,459.42 256.30,458.70 C257.45,457.98 258.15,457.42 259.20,455.70 C260.25,453.98 261.38,450.22 262.60,448.40 C263.82,446.58 265.00,445.47 266.50,444.80 C268.00,444.13 270.18,444.55 271.60,444.40 C273.02,444.25 273.68,444.47 275.00,443.90 C276.32,443.33 278.18,441.28 279.50,441.00 C280.82,440.72 281.87,441.17 282.90,442.20 C283.93,443.23 284.77,445.42 285.70,447.20 C286.63,448.98 287.47,451.38 288.50,452.90 C289.53,454.42 290.58,455.58 291.90,456.30 C293.22,457.02 294.90,457.02 296.40,457.20 C297.90,457.38 299.40,457.08 300.90,457.40 C302.40,457.72 303.92,458.67 305.40,459.10 C306.88,459.53 308.57,459.82 309.80,460.00 C311.03,460.18 311.22,460.17 312.80,460.20 C314.38,460.23 318.22,460.20 319.30,460.20 Z" fill="#ff776c"/>
<line x1="239.8" y1="460.2" x2="319.3" y2="460.2" stroke="#ff776c" stroke-width="1"/>
<line x1="236.8" y1="466.9" x2="322.8" y2="466.9" stroke="#111" stroke-width="1.4"/>
<line x1="250.30" y1="466.9" x2="250.30" y2="470" stroke="#000" stroke-width="1"/>
<text x="0" y="0" font-size="9.4" fill="#4d4d4d" text-anchor="middle" transform="translate(250.30,480.7) scale(1,1.22)">0</text>
<line x1="268.30" y1="466.9" x2="268.30" y2="470" stroke="#000" stroke-width="1"/>
<text x="0" y="0" font-size="9.4" fill="#4d4d4d" text-anchor="middle" transform="translate(268.30,480.7) scale(1,1.22)">25</text>
<line x1="286.30" y1="466.9" x2="286.30" y2="470" stroke="#000" stroke-width="1"/>
<text x="0" y="0" font-size="9.4" fill="#4d4d4d" text-anchor="middle" transform="translate(286.30,480.7) scale(1,1.22)">50</text>
<line x1="304.30" y1="466.9" x2="304.30" y2="470" stroke="#000" stroke-width="1"/>
<text x="0" y="0" font-size="9.4" fill="#4d4d4d" text-anchor="middle" transform="translate(304.30,480.7) scale(1,1.22)">75</text>
<line x1="322.30" y1="466.9" x2="322.30" y2="470" stroke="#000" stroke-width="1"/>
<text x="0" y="0" font-size="9.4" fill="#4d4d4d" text-anchor="middle" transform="translate(322.30,480.7) scale(1,1.22)">100</text>
<text x="0" y="0" font-size="9.5" fill="#222" transform="translate(237.10,403.9) scale(1,1.1)">% HMC/CD34 cells</text>
<path d="M344.20,428.10 C345.37,428.08 349.43,428.07 351.20,428.00 C352.97,427.93 353.47,428.00 354.80,427.70 C356.13,427.40 357.87,427.05 359.20,426.20 C360.53,425.35 361.58,424.17 362.80,422.60 C364.02,421.03 365.17,418.38 366.50,416.80 C367.83,415.22 369.35,413.83 370.80,413.10 C372.25,412.37 373.50,412.32 375.20,412.40 C376.90,412.48 379.07,413.17 381.00,413.60 C382.93,414.03 384.85,414.52 386.80,415.00 C388.75,415.48 391.00,415.97 392.70,416.50 C394.40,417.03 395.55,417.18 397.00,418.20 C398.45,419.22 400.07,421.27 401.40,422.60 C402.73,423.93 403.78,425.33 405.00,426.20 C406.22,427.07 407.50,427.48 408.70,427.80 C409.90,428.12 409.70,428.05 412.20,428.10 C414.70,428.15 421.78,428.10 423.70,428.10 Z" fill="#d580ff"/>
<line x1="344.20000000000005" y1="428.1" x2="423.70000000000005" y2="428.1" stroke="#d580ff" stroke-width="1"/>
<path d="M344.20,438.80 C344.53,438.78 345.40,438.82 346.20,438.70 C347.00,438.58 347.57,438.57 349.00,438.10 C350.43,437.63 352.85,436.57 354.80,435.90 C356.75,435.23 358.75,434.83 360.70,434.10 C362.65,433.37 364.82,432.65 366.50,431.50 C368.18,430.35 369.35,428.65 370.80,427.20 C372.25,425.75 373.73,423.82 375.20,422.80 C376.67,421.78 378.15,421.10 379.60,421.10 C381.05,421.10 382.45,421.55 383.90,422.80 C385.35,424.05 386.83,426.90 388.30,428.60 C389.77,430.30 391.00,432.08 392.70,433.00 C394.40,433.92 396.57,433.87 398.50,434.10 C400.43,434.33 402.37,434.10 404.30,434.40 C406.23,434.70 408.17,435.28 410.10,435.90 C412.03,436.52 414.38,437.63 415.90,438.10 C417.42,438.57 417.90,438.58 419.20,438.70 C420.50,438.82 422.95,438.78 423.70,438.80 Z" fill="#00bcc4"/>
<line x1="344.20000000000005" y1="438.8" x2="423.70000000000005" y2="438.8" stroke="#00bcc4" stroke-width="1"/>
<path d="M344.20,449.50 C345.37,449.48 349.62,449.45 351.20,449.40 C352.78,449.35 352.70,449.43 353.70,449.20 C354.70,448.97 356.12,448.53 357.20,448.00 C358.28,447.47 359.13,447.00 360.20,446.00 C361.27,445.00 362.52,443.25 363.60,442.00 C364.68,440.75 365.68,439.42 366.70,438.50 C367.72,437.58 368.40,437.00 369.70,436.50 C371.00,436.00 372.70,435.83 374.50,435.50 C376.30,435.17 378.52,434.73 380.50,434.50 C382.48,434.27 384.62,434.07 386.40,434.10 C388.18,434.13 389.90,434.30 391.20,434.70 C392.50,435.10 393.12,435.45 394.20,436.50 C395.28,437.55 396.45,439.50 397.70,441.00 C398.95,442.50 400.45,444.28 401.70,445.50 C402.95,446.72 403.95,447.67 405.20,448.30 C406.45,448.93 408.03,449.10 409.20,449.30 C410.37,449.50 409.78,449.47 412.20,449.50 C414.62,449.53 421.78,449.50 423.70,449.50 Z" fill="#62ad00"/>
<line x1="344.20000000000005" y1="449.5" x2="423.70000000000005" y2="449.5" stroke="#62ad00" stroke-width="1"/>
<path d="M344.20,460.20 C345.70,460.18 351.12,460.13 353.20,460.10 C355.28,460.07 355.45,460.23 356.70,460.00 C357.95,459.77 359.55,459.42 360.70,458.70 C361.85,457.98 362.55,457.42 363.60,455.70 C364.65,453.98 365.78,450.22 367.00,448.40 C368.22,446.58 369.40,445.47 370.90,444.80 C372.40,444.13 374.58,444.55 376.00,444.40 C377.42,444.25 378.08,444.47 379.40,443.90 C380.72,443.33 382.58,441.28 383.90,441.00 C385.22,440.72 386.27,441.17 387.30,442.20 C388.33,443.23 389.17,445.42 390.10,447.20 C391.03,448.98 391.87,451.38 392.90,452.90 C393.93,454.42 394.98,455.58 396.30,456.30 C397.62,457.02 399.30,457.02 400.80,457.20 C402.30,457.38 403.80,457.08 405.30,457.40 C406.80,457.72 408.32,458.67 409.80,459.10 C411.28,459.53 412.97,459.82 414.20,460.00 C415.43,460.18 415.62,460.17 417.20,460.20 C418.78,460.23 422.62,460.20 423.70,460.20 Z" fill="#ff776c"/>
<line x1="344.20000000000005" y1="460.2" x2="423.70000000000005" y2="460.2" stroke="#ff776c" stroke-width="1"/>
<line x1="341.20000000000005" y1="466.9" x2="427.20000000000005" y2="466.9" stroke="#111" stroke-width="1.4"/>
<line x1="354.70" y1="466.9" x2="354.70" y2="470" stroke="#000" stroke-width="1"/>
<text x="0" y="0" font-size="9.4" fill="#4d4d4d" text-anchor="middle" transform="translate(354.70,480.7) scale(1,1.22)">0</text>
<line x1="372.70" y1="466.9" x2="372.70" y2="470" stroke="#000" stroke-width="1"/>
<text x="0" y="0" font-size="9.4" fill="#4d4d4d" text-anchor="middle" transform="translate(372.70,480.7) scale(1,1.22)">25</text>
<line x1="390.70" y1="466.9" x2="390.70" y2="470" stroke="#000" stroke-width="1"/>
<text x="0" y="0" font-size="9.4" fill="#4d4d4d" text-anchor="middle" transform="translate(390.70,480.7) scale(1,1.22)">50</text>
<line x1="408.70" y1="466.9" x2="408.70" y2="470" stroke="#000" stroke-width="1"/>
<text x="0" y="0" font-size="9.4" fill="#4d4d4d" text-anchor="middle" transform="translate(408.70,480.7) scale(1,1.22)">75</text>
<line x1="426.70" y1="466.9" x2="426.70" y2="470" stroke="#000" stroke-width="1"/>
<text x="0" y="0" font-size="9.4" fill="#4d4d4d" text-anchor="middle" transform="translate(426.70,480.7) scale(1,1.22)">100</text>
<text x="0" y="0" font-size="9.5" fill="#222" transform="translate(341.50,403.9) scale(1,1.1)">% MPP/CD34 cells</text>
<rect x="449.5" y="397.00" width="22.6" height="22.3" fill="#ff776c"/>
<text x="0" y="0" font-size="6.3" fill="#333" transform="translate(476.3,410.80) scale(1,1.15)">HEALTHY</text>
<rect x="449.5" y="419.20" width="22.6" height="22.3" fill="#62ad00"/>
<text x="0" y="0" font-size="6.3" fill="#333" transform="translate(476.3,433.00) scale(1,1.15)">HU</text>
<rect x="449.5" y="441.40" width="22.6" height="22.3" fill="#00bcc4"/>
<text x="0" y="0" font-size="6.3" fill="#333" transform="translate(476.3,455.20) scale(1,1.15)">TRANSFUSION</text>
<rect x="449.5" y="463.60" width="22.6" height="22.3" fill="#d580ff"/>
<text x="0" y="0" font-size="6.3" fill="#333" transform="translate(476.3,477.40) scale(1,1.15)">NAIVE</text>
</svg>
</body></html>
